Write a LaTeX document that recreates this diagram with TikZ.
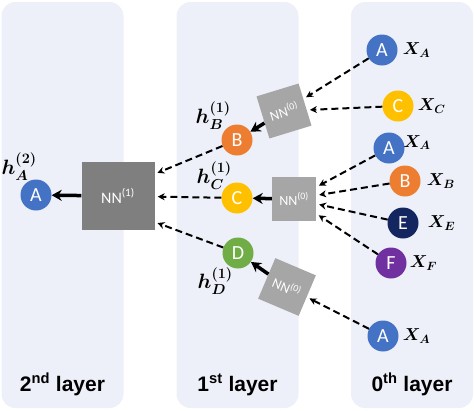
\documentclass[tikz,border=0pt]{standalone}
\usepackage{fontspec}
\usepackage{amsmath}
\usepackage{bm}
\setmainfont{Carlito}
\newfontfamily\layerfont{Liberation Sans}
\usetikzlibrary{positioning,arrows.meta}

\definecolor{panelbg}{HTML}{EDF0F8}
\definecolor{nodeblue}{HTML}{4472C4}
\definecolor{nodeorange}{HTML}{ED7D31}
\definecolor{nodeyellow}{HTML}{FFC000}
\definecolor{nodegreen}{HTML}{70AD47}
\definecolor{nodenavy}{HTML}{132660}
\definecolor{nodepurple}{HTML}{7030A0}
\definecolor{nndark}{HTML}{7F7F7F}
\definecolor{nnlight}{HTML}{A6A6A6}

\begin{document}
\begin{tikzpicture}[x=1pt, y=-1pt,
		c/.style={circle, minimum size=31pt, inner sep=0pt, text=white, font=\fontsize{20}{20}\selectfont},
		nn/.style={fill=nnlight, minimum size=44pt, inner sep=0pt, text=white, font=\fontsize{14}{14}\selectfont},
		panel/.style={fill=panelbg, rounded corners=14pt, minimum width=122pt, minimum height=406pt},
		layerlab/.style={font=\layerfont\bfseries\fontsize{21}{21}\selectfont},
		hlab/.style={inner sep=0pt, font=\fontsize{20}{20}\selectfont},
		xlab/.style={inner sep=0pt, font=\fontsize{18}{18}\selectfont},
		msg/.style={-{Stealth[length=7pt,width=7pt]}, line width=2pt, dash pattern=on 7pt off 4pt, shorten >=3pt},
		upd/.style={-{Stealth[length=10pt,width=11pt]}, line width=3.5pt}]
		\useasboundingbox (0,0) rectangle (474,410);

		% layers
		\node[panel] (L2) at (62.5,205) {};
		\node[panel] (L1) at (237.5,205) {};
		\node[panel] (L0) at (412,205) {};
		\node[layerlab, above=9pt of L2.south] (L2_label) {2\textsuperscript{nd} layer};
		\node[layerlab, above=9pt of L1.south] (L1_label) {1\textsuperscript{st} layer};
		\node[layerlab, above=9pt of L0.south] (L0_label) {0\textsuperscript{th} layer};

		% 2nd layer
		\node[c, fill=nodeblue] (A2) at (36,195) {A};
		\node[hlab, above left=3pt and -12pt of A2] (A2_label) {$\bm{h}_{\bm{A}}^{\bm{(2)}}$};
		\node[nn, fill=nndark, minimum width=73pt, minimum height=68pt, font=\fontsize{16}{16}\selectfont] (NN1) at (118,196) {NN\textsuperscript{(1)}};

		% 1st layer
		\node[c, fill=nodeorange] (B1) at (237,140) {B};
		\node[hlab, above left=-1pt and -5pt of B1] (B1_label) {$\bm{h}_{\bm{B}}^{\bm{(1)}}$};
		\node[c, fill=nodeyellow] (C1) at (237,198) {C};
		\node[hlab, above left=-3pt and -6pt of C1] (C1_label) {$\bm{h}_{\bm{C}}^{\bm{(1)}}$};
		\node[c, fill=nodegreen] (D1) at (238,253) {D};
		\node[hlab, below left=3pt and -6pt of D1] (D1_label) {$\bm{h}_{\bm{D}}^{\bm{(1)}}$};
		\node[nn, rotate=17] (NNB) at (284,111) {NN\textsuperscript{(0)}};
		\node[nn] (NNC) at (294,199) {NN\textsuperscript{(0)}};
		\node[nn, rotate=-23] (NND) at (287,287) {NN\textsuperscript{(0)}};

		% 0th layer
		\node[c, fill=nodeblue] (A0a) at (382,50) {A};
		\node[xlab, right=5pt of A0a] (A0a_label) {$\bm{X_A}$};
		\node[c, fill=nodeyellow] (C0) at (398,106) {C};
		\node[xlab, right=4pt of C0] (C0_label) {$\bm{X_C}$};
		\node[c, fill=nodeblue] (A0b) at (389,148) {A};
		\node[xlab, above right=-13pt and 3pt of A0b] (A0b_label) {$\bm{X_A}$};
		\node[c, fill=nodeorange] (B0) at (405,181) {B};
		\node[xlab, right=6pt of B0] (B0_label) {$\bm{X_B}$};
		\node[c, fill=nodenavy] (E0) at (403,223) {E};
		\node[xlab, right=9pt of E0] (E0_label) {$\bm{X_E}$};
		\node[c, fill=nodepurple] (F0) at (391,263) {F};
		\node[xlab, right=3pt of F0] (F0_label) {$\bm{X_F}$};
		\node[c, fill=nodeblue] (A0c) at (383,336) {A};
		\node[xlab, right=4pt of A0c] (A0c_label) {$\bm{X_A}$};

		\path[msg] (A0a) edge (NNB);
		\path[msg] (C0) edge (NNB);
		\path[msg] (A0b) edge (NNC);
		\path[msg] (B0) edge (NNC);
		\path[msg] (E0) edge (NNC);
		\path[msg] (F0) edge (NNC);
		\path[msg] (A0c) edge (NND);

		\draw[upd] (NNB) -- (B1);
		\draw[upd] (NNC) -- (C1);
		\draw[upd] (NND) -- (D1);

		\path[msg] (B1) edge ([yshift=22pt]NN1.east);
		\path[msg] (C1) edge (NN1);
		\path[msg] (D1) edge ([yshift=-26pt]NN1.east);

		\draw[upd] (NN1) -- (A2);
	\end{tikzpicture}
\end{document}
